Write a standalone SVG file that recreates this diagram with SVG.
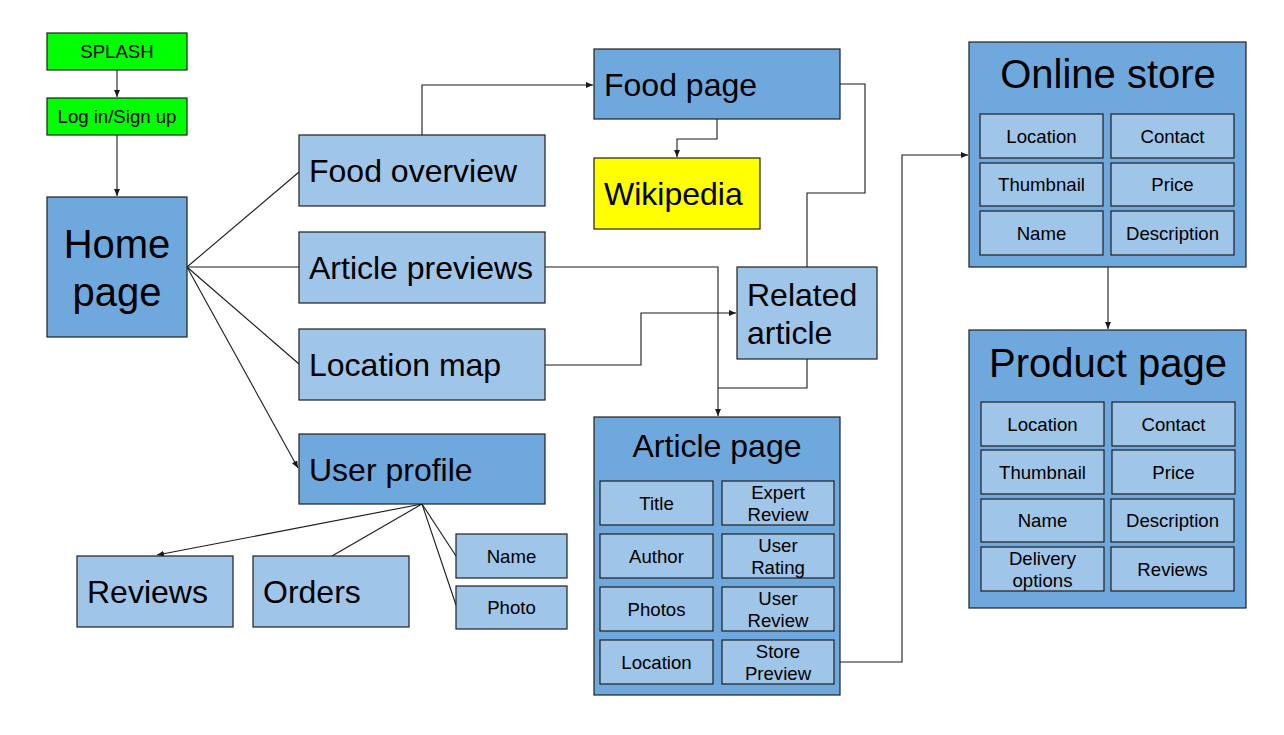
<svg xmlns="http://www.w3.org/2000/svg" width="1284" height="735" viewBox="0 0 1284 735">
<style>
text{font-family:"Liberation Sans",Arial,sans-serif;fill:#000}
.b{stroke:#1f1f1f;stroke-width:1.2}
.dk{fill:#6fa8dc}
.lt{fill:#9fc5e8}
.gr{fill:#00ff00}
.ye{fill:#ffff00}
.big{font-size:32px}
.huge{font-size:40px}
.sm{font-size:18.6px;text-anchor:middle}
.c{text-anchor:middle}
.con path,.con line{fill:none;stroke:#1a1a1a;stroke-width:1.1}
</style>
<defs>
<marker id="ar" markerWidth="8" markerHeight="8" refX="7" refY="4" orient="auto" markerUnits="userSpaceOnUse">
<path d="M0,1 L7,4 L0,7 Z" fill="#1a1a1a"/>
</marker>
</defs>
<rect width="1284" height="735" fill="#ffffff"/>

<g class="con">
<line x1="117" y1="70" x2="117" y2="97" marker-end="url(#ar)"/>
<line x1="117" y1="135" x2="117" y2="196" marker-end="url(#ar)"/>
<line x1="187" y1="267" x2="299" y2="172"/>
<line x1="187" y1="267" x2="299" y2="267"/>
<line x1="187" y1="267" x2="299" y2="364"/>
<line x1="187" y1="267" x2="298" y2="468" marker-end="url(#ar)"/>
<path d="M422,135 V85 H593" marker-end="url(#ar)"/>
<path d="M717,119 V139 H677 V157" marker-end="url(#ar)"/>
<path d="M840,84 H865 V193 H807 V267"/>
<path d="M545,267 H718 V416" marker-end="url(#ar)"/>
<path d="M545,365 H641 V313 H736" marker-end="url(#ar)"/>
<path d="M807,359 V388 H718"/>
<path d="M834,662 H902 V155 H968" marker-end="url(#ar)"/>
<line x1="1108" y1="267" x2="1108" y2="329" marker-end="url(#ar)"/>
<line x1="422" y1="504" x2="157" y2="555" marker-end="url(#ar)"/>
<line x1="422" y1="504" x2="332" y2="556"/>
<line x1="422" y1="504" x2="456" y2="556"/>
<line x1="422" y1="504" x2="456" y2="605"/>
</g>

<g id="splash"><rect class="b gr" x="47" y="33" width="140" height="37"/><text class="sm" x="117" y="58">SPLASH</text></g>
<g id="login"><rect class="b gr" x="47" y="98" width="140" height="37"/><text class="sm" x="117" y="123">Log in/Sign up</text></g>
<g id="home"><rect class="b dk" x="47" y="197" width="140" height="140"/><text class="huge c" x="117" y="258">Home</text><text class="huge c" x="117" y="306">page</text></g>

<g id="food-overview"><rect class="b lt" x="299" y="135" width="246" height="71"/><text class="big" x="309" y="182">Food overview</text></g>
<g id="article-previews"><rect class="b lt" x="299" y="232" width="246" height="71"/><text class="big" x="309" y="279">Article previews</text></g>
<g id="location-map"><rect class="b lt" x="299" y="329" width="246" height="71"/><text class="big" x="309" y="376">Location map</text></g>
<g id="user-profile"><rect class="b dk" x="299" y="434" width="246" height="70"/><text class="big" x="309" y="481">User profile</text></g>

<g id="reviews"><rect class="b lt" x="77" y="556" width="156" height="71"/><text class="big" x="87" y="603">Reviews</text></g>
<g id="orders"><rect class="b lt" x="253" y="556" width="156" height="71"/><text class="big" x="263" y="603">Orders</text></g>
<g id="name"><rect class="b lt" x="456" y="534" width="111" height="44"/><text class="sm" x="511.5" y="562.5">Name</text></g>
<g id="photo"><rect class="b lt" x="456" y="586" width="111" height="43"/><text class="sm" x="511.5" y="614">Photo</text></g>

<g id="food-page"><rect class="b dk" x="594" y="49" width="246" height="70"/><text class="big" x="604" y="96">Food page</text></g>
<g id="wikipedia"><rect class="b ye" x="594" y="158" width="166" height="71"/><text class="big" x="604" y="205">Wikipedia</text></g>
<g id="related-article"><rect class="b lt" x="737" y="267" width="140" height="92"/><text class="big" x="747" y="306">Related</text><text class="big" x="747" y="344">article</text></g>

<g id="article-page">
<rect class="b dk" x="594" y="417" width="246" height="278"/>
<text class="big c" x="717" y="457">Article page</text>
<rect class="b lt" x="600" y="481" width="113" height="44"/><text class="sm" x="656.5" y="509.5">Title</text>
<rect class="b lt" x="722" y="481" width="112" height="44"/><text class="sm" x="778" y="499">Expert</text><text class="sm" x="778" y="521">Review</text>
<rect class="b lt" x="600" y="534" width="113" height="44"/><text class="sm" x="656.5" y="562.5">Author</text>
<rect class="b lt" x="722" y="534" width="112" height="44"/><text class="sm" x="778" y="552">User</text><text class="sm" x="778" y="574">Rating</text>
<rect class="b lt" x="600" y="587" width="113" height="44"/><text class="sm" x="656.5" y="615.5">Photos</text>
<rect class="b lt" x="722" y="587" width="112" height="44"/><text class="sm" x="778" y="605">User</text><text class="sm" x="778" y="627">Review</text>
<rect class="b lt" x="600" y="640" width="113" height="44"/><text class="sm" x="656.5" y="668.5">Location</text>
<rect class="b lt" x="722" y="640" width="112" height="44"/><text class="sm" x="778" y="658">Store</text><text class="sm" x="778" y="680">Preview</text>
</g>

<g id="online-store">
<rect class="b dk" x="969" y="42" width="277" height="225"/>
<text class="huge c" x="1108" y="88">Online store</text>
<rect class="b lt" x="980" y="114" width="123" height="44"/><text class="sm" x="1041.5" y="142.5">Location</text>
<rect class="b lt" x="1111" y="114" width="123" height="44"/><text class="sm" x="1172.5" y="142.5">Contact</text>
<rect class="b lt" x="980" y="163" width="123" height="43"/><text class="sm" x="1041.5" y="191">Thumbnail</text>
<rect class="b lt" x="1111" y="163" width="123" height="43"/><text class="sm" x="1172.5" y="191">Price</text>
<rect class="b lt" x="980" y="211" width="123" height="44"/><text class="sm" x="1041.5" y="239.5">Name</text>
<rect class="b lt" x="1111" y="211" width="123" height="44"/><text class="sm" x="1172.5" y="239.5">Description</text>
</g>

<g id="product-page">
<rect class="b dk" x="969" y="330" width="277" height="278"/>
<text class="huge c" x="1108" y="377">Product page</text>
<rect class="b lt" x="981" y="402" width="123" height="44"/><text class="sm" x="1042.5" y="430.5">Location</text>
<rect class="b lt" x="1112" y="402" width="123" height="44"/><text class="sm" x="1173.5" y="430.5">Contact</text>
<rect class="b lt" x="981" y="450" width="123" height="44"/><text class="sm" x="1042.5" y="478.5">Thumbnail</text>
<rect class="b lt" x="1112" y="450" width="123" height="44"/><text class="sm" x="1173.5" y="478.5">Price</text>
<rect class="b lt" x="981" y="499" width="123" height="43"/><text class="sm" x="1042.5" y="527">Name</text>
<rect class="b lt" x="1111" y="499" width="123" height="43"/><text class="sm" x="1172.5" y="527">Description</text>
<rect class="b lt" x="981" y="547" width="123" height="44"/><text class="sm" x="1042.5" y="565">Delivery</text><text class="sm" x="1042.5" y="587">options</text>
<rect class="b lt" x="1111" y="547" width="123" height="44"/><text class="sm" x="1172.5" y="575.5">Reviews</text>
</g>
</svg>
